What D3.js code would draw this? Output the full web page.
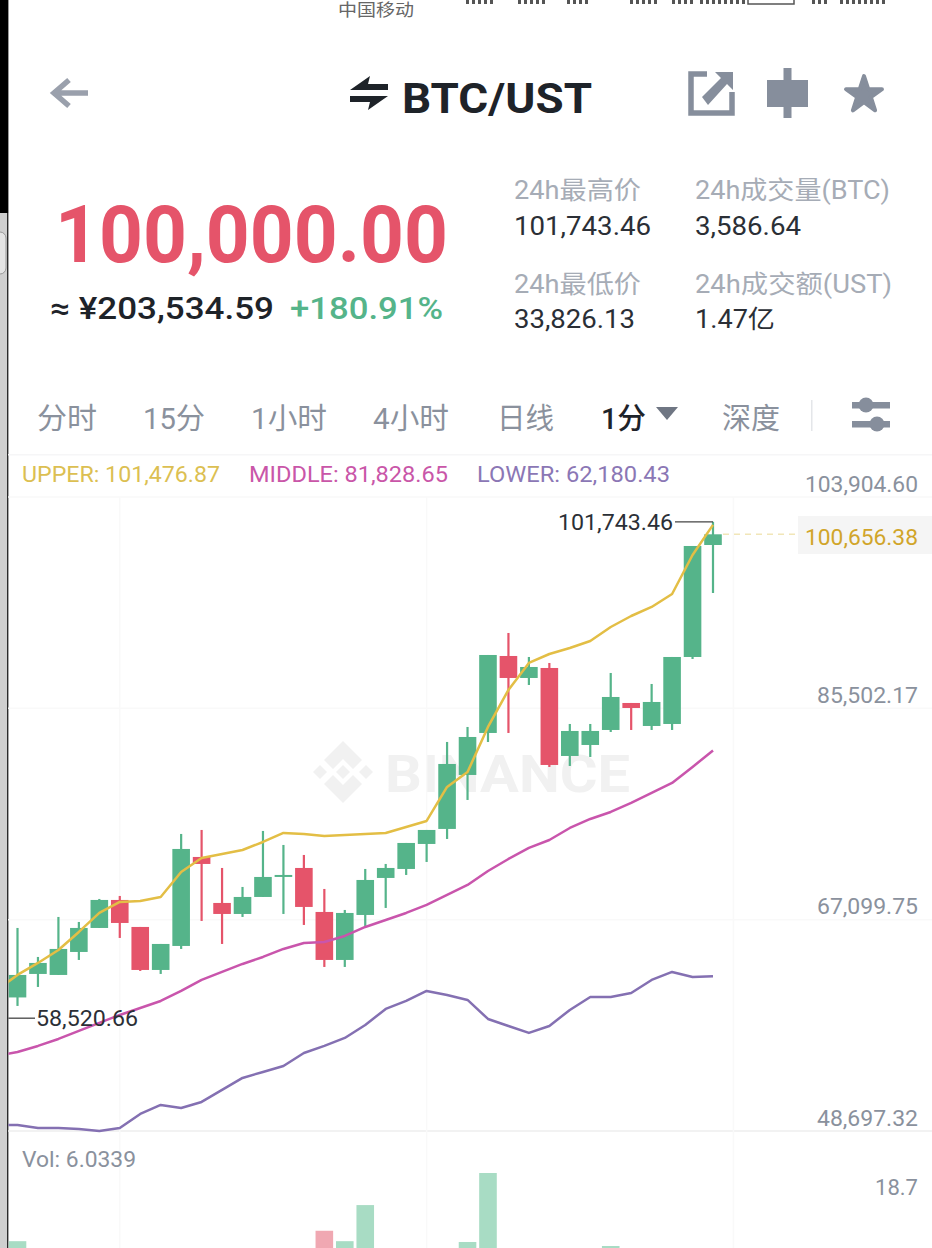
<!DOCTYPE html>
<html><head><meta charset="utf-8">
<script src="https://cdn.jsdelivr.net/npm/d3@7"></script>
<style>html,body{margin:0;padding:0;background:#fff;overflow:hidden}svg{display:block}text{font-family:Roboto,"Noto Sans CJK SC",sans-serif}</style>
</head><body><svg id="c" width="932" height="1248"></svg>
<script>
// ---- data ----
const opens  = [60327,62373,62286,64288,66378,68816,66465,62721,64811,72560,68555,67597,69077,70819,71602,67771,63592,67510,70732,71515,73692,75000,79700,83357,90061,88146,89016,81354,82312,83618,85969,83966,84140,89974,99726];
const highs  = [66378,63853,67336,66900,68903,69164,66465,64985,74563,74911,71602,69948,74824,73605,72734,69774,67945,71515,71951,73779,74911,82574,83879,90148,92064,89974,89452,84140,84140,88581,85969,87623,89974,99639,101743.46];
const lows   = [59587,61241,62286,63592,66378,65507,62634,62373,64550,66988,64985,67336,69077,67597,66639,62982,62982,66552,68120,70993,72125,74127,77523,82573,83357,87536,80396,80483,81267,83444,83618,83618,83618,89800,95546];
const closes = [62286,63331,64550,66378,68816,66813,62721,64985,73257,71951,67597,69077,70819,70993,68207,63592,67684,70557,71602,73779,74911,80658,83008,90148,88146,89103,80570,83531,83531,86491,85533,86056,89974,99639,100656.38];
// band series start one step before the first visible candle
const upper  = [60980,62286,63331,64462,66030,67684,68642,68729,69077,71254,72473,72821,73169,73866,74650,74563,74388,74476,74563,74650,75172,75695,78655,79961,83879,87101,89452,90235,90758,91367,92586,93544,94328,95459,98855,101476.87];
const middle = [55233,55581,56104,56713,57410,58106,58803,59412,60022,60893,61850,62547,63244,63853,64550,65072,65159,65681,66465,67075,67684,68381,69251,70122,71341,72386,73344,74040,75085,75869,76478,77262,78133,79003,80396,81828.65];
const lower  = [49225,49225,48964,48964,48877,48703,48964,50183,50967,50705,51228,52273,53318,53840,54362,55494,56104,56800,57932,59325,60022,60893,60544,60109,58455,57845,57236,57845,59238,60370,60370,60718,61850,62547,62112,62180.43];
const volIndex  = [0,15,16,17,22,23,29,34];
const volValues = [10.2,11.5,10.2,14.7,10.1,18.7,9.6,6.0339];
const volUp     = [true,false,true,true,true,true,true,true];
const priceTicks = [103904.60,85502.17,67099.75,48697.32];
const priceTickLabels = ["103,904.60","85,502.17","67,099.75","48,697.32"];
const lastPrice = 100656.38, highLabel = 101743.46, lowLabel = 58520.66;
const gridCandles = [5,20,35];
const tabs = ["分时","15分","1小时","4小时","日线","1分","深度"];

// ---- colours ----
const GREEN="#55b48a",RED="#e5546a",GREY="#8a919d",ICON="#868e9c",DARK="#1e2329",SOFT="#a6acb6";

const svg=d3.select("#c");
const x=d3.scaleLinear().domain([0,34]).range([17.5,713]);
const y=d3.scaleLinear().domain([48697.32,103904.60]).range([1131,497]);
const yVol=d3.scaleLinear().domain([0,18.7]).range([1323,1173]);
const fmt=d3.format(",.2f");

function T(px,py,s,size,fill,o={}){
  const t=svg.append("text").attr("x",px).attr("y",py).attr("font-size",size).attr("fill",fill)
    .attr("font-weight",o.w||400).attr("text-anchor",o.a||"start").text(s);
  if(o.len) t.attr("textLength",o.len).attr("lengthAdjust","spacingAndGlyphs");
  return t;
}

// ---- window edge / status bar ----
svg.append("rect").attr("x",0).attr("y",213).attr("width",7).attr("height",1035).attr("fill","#cfcfcf");
svg.append("rect").attr("x",7).attr("y",213).attr("width",1.4).attr("height",1035).attr("fill","#2a2a2a");
svg.append("rect").attr("x",0).attr("y",0).attr("width",8.4).attr("height",213).attr("fill","#000");
svg.append("rect").attr("x",-8).attr("y",232).attr("width",14).attr("height",42).attr("rx",6).attr("fill","#e4e4e4").attr("stroke","#999");
T(338,16,"中国移动",17,"#666",{len:76});
[[466,495],[518,547],[567,590],[630,655],[672,692],[700,745],[812,830],[840,885]].forEach(([a,b])=>{
  for(let i=a;i<b;i+=6) svg.append("rect").attr("x",i).attr("y",0).attr("width",3).attr("height",4).attr("fill","#555");
});
svg.append("rect").attr("x",748).attr("y",-6).attr("width",46).attr("height",10).attr("fill","none").attr("stroke","#555").attr("stroke-width",1.5);

// ---- header ----
svg.append("path").attr("d","M88,93H56M69,80L54,93L69,106").attr("fill","none").attr("stroke","#9aa0ac").attr("stroke-width",5.5);
svg.append("path").attr("d","M370,76L350,90H388V84H368ZM350,96V102H370L368,110L388,96Z").attr("fill",DARK);
T(402,113,"BTC/UST",43,DARK,{w:700,len:190});
svg.append("path").attr("d","M707,74H691V113H732V92").attr("fill","none").attr("stroke",ICON).attr("stroke-width",5.5);
svg.append("path").attr("d","M715,72H733V90L727,84L708,105L702,97L721,78Z").attr("fill",ICON);
svg.append("rect").attr("x",767).attr("y",80).attr("width",41).attr("height",27).attr("fill",ICON);
svg.append("rect").attr("x",783.5).attr("y",68).attr("width",8).attr("height",50).attr("fill",ICON);
svg.append("path").attr("d",d3.symbol(d3.symbolStar,400)()).attr("transform","translate(864,95)").attr("fill",ICON)
  .attr("stroke",ICON).attr("stroke-width",4).attr("stroke-linejoin","round");

// ---- ticker ----
T(55,262,"100,000.00",80,RED,{w:700,len:393});
T(50,319,"≈ ¥203,534.59",31,DARK,{w:500,len:224});
T(290,319,"+180.91%",31,GREEN,{w:500,len:153});
T(514,199,"24h最高价",25,SOFT,{len:127});
T(695,199,"24h成交量(BTC)",25,SOFT,{len:195});
T(514,235,"101,743.46",25,"#2b2f36",{len:137});
T(695,235,"3,586.64",25,"#2b2f36",{len:106});
T(514,293,"24h最低价",25,SOFT,{len:127});
T(695,293,"24h成交额(UST)",25,SOFT,{len:197});
T(514,328,"33,826.13",25,"#2b2f36",{len:121});
T(695,328,"1.47亿",25,"#2b2f36",{len:80});

// ---- tabs ----
const tabX=[37,143,251,373,497,601,722], tabLen=[60,62,76,76,57,45,58];
tabs.forEach((s,i)=>T(tabX[i],429,s,29,i===5?DARK:GREY,{w:i===5?500:400,len:tabLen[i]}));
svg.append("path").attr("d","M656,407H678L667,420Z").attr("fill","#6f7683");
svg.append("rect").attr("x",811).attr("y",400).attr("width",1.5).attr("height",31).attr("fill","#e4e6e9");
[[852,402,866,405],[852,421,877,424]].forEach(([a,b,cx,cy])=>{
  svg.append("rect").attr("x",a).attr("y",b).attr("width",38).attr("height",6.5).attr("fill",ICON);
  svg.append("circle").attr("cx",cx).attr("cy",cy).attr("r",7.5).attr("fill",ICON);
});
svg.append("rect").attr("x",8).attr("y",454).attr("width",924).attr("height",1.5).attr("fill","#f6f6f7");

// ---- legend ----
T(22,482,"UPPER: "+fmt(upper[upper.length-1]),22,"#dcbf52",{len:198});
T(249,482,"MIDDLE: "+fmt(middle[middle.length-1]),22,"#c956a8",{len:199});
T(477,482,"LOWER: "+fmt(lower[lower.length-1]),22,"#8b77b5",{len:193});

// ---- watermark ----
const wm=svg.append("g").attr("fill","#f1f1f1");
wm.append("path").attr("d","M343,741L362,760L353,769L343,759L333,769L324,760Z");
wm.append("path").attr("d","M343,803L362,784L353,775L343,785L333,775L324,784Z");
[[343,772,7],[320,772,7],[366,772,7]].forEach(([cx,cy,r])=>
  wm.append("path").attr("d",`M${cx},${cy-r}L${cx+r},${cy}L${cx},${cy+r}L${cx-r},${cy}Z`));
T(385,792,"BINANCE",52,"#f1f1f1",{w:700,len:245});

// ---- grid ----
const grid=svg.append("g");
grid.selectAll("line.h").data(priceTicks.slice(0,3)).join("line").attr("class","h")
  .attr("x1",8).attr("x2",932).attr("y1",d=>y(d)).attr("y2",d=>y(d)).attr("stroke","#f9f9f9").attr("stroke-width",1.5);
grid.append("line").attr("x1",8).attr("x2",932).attr("y1",y(48697.32)).attr("y2",y(48697.32)).attr("stroke","#eeeeee").attr("stroke-width",1.5);
grid.selectAll("line.v").data(gridCandles).join("line").attr("class","v")
  .attr("x1",d=>x(d)).attr("x2",d=>x(d)).attr("y1",497).attr("y2",1248).attr("stroke","#f9f9f9").attr("stroke-width",1.5);

// ---- price axis ----
const ax=svg.append("g").attr("transform","translate(918,0)")
  .call(d3.axisLeft(y).tickValues(priceTicks).tickSize(0).tickPadding(0).tickFormat((d,i)=>priceTickLabels[i]));
ax.select(".domain").remove();
ax.selectAll("text").attr("font-size",22).attr("fill",GREY).attr("dy",-6).attr("dominant-baseline","auto")
  .attr("font-family",'Roboto,sans-serif').attr("textLength",(d,i)=>i===0?113:101).attr("lengthAdjust","spacingAndGlyphs");

// ---- plot ----
svg.append("defs").append("clipPath").attr("id","plot").append("rect").attr("x",8.4).attr("y",490).attr("width",924).attr("height",758);
const plot=svg.append("g").attr("clip-path","url(#plot)");
const candle=plot.selectAll("g.k").data(d3.range(opens.length)).join("g").attr("class","k")
  .attr("fill",i=>closes[i]>=opens[i]?GREEN:RED);
candle.append("rect").attr("x",i=>x(i)-1.1).attr("width",2.2)
  .attr("y",i=>y(highs[i])).attr("height",i=>y(lows[i])-y(highs[i]));
candle.append("rect").attr("x",i=>x(i)-8.8).attr("width",17.6)
  .attr("y",i=>y(Math.max(opens[i],closes[i])))
  .attr("height",i=>Math.max(1.5,Math.abs(y(opens[i])-y(closes[i]))));

const line=d3.line().x((d,i)=>x(i-1)).y(d=>y(d));
[[lower,"#8470b2"],[middle,"#c955ac"],[upper,"#e3be45"]].forEach(([s,c])=>
  plot.append("path").attr("d",line(s)).attr("fill","none").attr("stroke",c).attr("stroke-width",2.5).attr("stroke-linejoin","round"));

// ---- volume ----
plot.selectAll("rect.vol").data(volIndex).join("rect").attr("class","vol")
  .attr("x",i=>x(i)-8.8).attr("width",17.6)
  .attr("y",(d,i)=>yVol(volValues[i])).attr("height",(d,i)=>yVol(0)-yVol(volValues[i]))
  .attr("fill",(d,i)=>volUp[i]?"#a8dcc4":"#f0a8b2");
T(22,1167,"Vol: "+volValues[volValues.length-1].toFixed(4),22,GREY,{len:114});
T(918,1195,"18.7",22,GREY,{a:"end"});

// ---- last price / extremes ----
svg.append("line").attr("x1",723).attr("x2",798).attr("y1",y(lastPrice)).attr("y2",y(lastPrice))
  .attr("stroke","#f1e6b8").attr("stroke-width",1.5).attr("stroke-dasharray","6 5");
svg.append("rect").attr("x",798).attr("y",516).attr("width",134).attr("height",38).attr("fill","#f5f5f5");
T(805,545,fmt(lastPrice),22,"#d1a52a",{len:113});
svg.append("line").attr("x1",675).attr("x2",x(34)).attr("y1",y(highLabel)).attr("y2",y(highLabel)).attr("stroke","#444").attr("stroke-width",1.3);
T(558,530,fmt(highLabel),22,"#2b2f36",{len:115});
svg.append("line").attr("x1",8.4).attr("x2",35).attr("y1",y(lowLabel)).attr("y2",y(lowLabel)).attr("stroke","#444").attr("stroke-width",1.3);
T(36,1026,fmt(lowLabel),22,"#2b2f36",{len:102});
</script></body></html>
